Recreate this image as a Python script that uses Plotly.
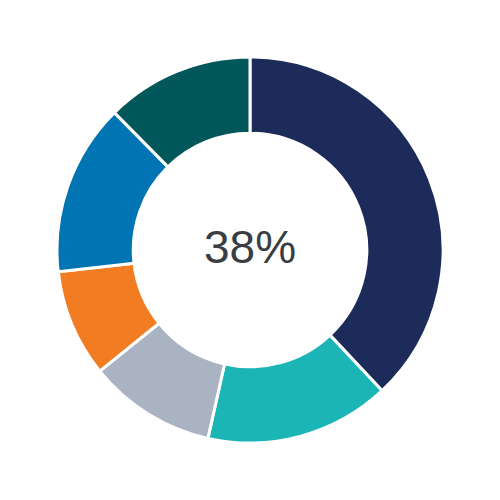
import plotly.graph_objects as go

labels = ["A", "B", "C", "D", "E", "F"]
values = [38, 15.5, 10.7, 9, 14.4, 12.4]
colors = ["#1d2b5a", "#1cb5b6", "#a9b3c1", "#f27c21", "#0175b4", "#02575a"]
center_text = "38%"

fig = go.Figure(go.Pie(
    labels=labels,
    values=values,
    hole=0.605,
    sort=False,
    direction="clockwise",
    rotation=0,
    marker=dict(colors=colors, line=dict(color="white", width=3)),
    textinfo="none",
    hoverinfo="label+percent",
))

# centre label, nudged up a little like the original
fig.add_annotation(
    text=center_text, x=0.5, y=0.5, xref="paper", yref="paper",
    showarrow=False, yshift=3,
    font=dict(family="Liberation Sans, Arial", size=46, color="#3a3e43"),
)

# page has an 8px body margin, so offset the plot area to keep it centred
fig.update_layout(
    width=500, height=500,
    margin=dict(l=49, r=65, t=49, b=65),
    showlegend=False,
    paper_bgcolor="white",
)

fig.write_html("out.html")
